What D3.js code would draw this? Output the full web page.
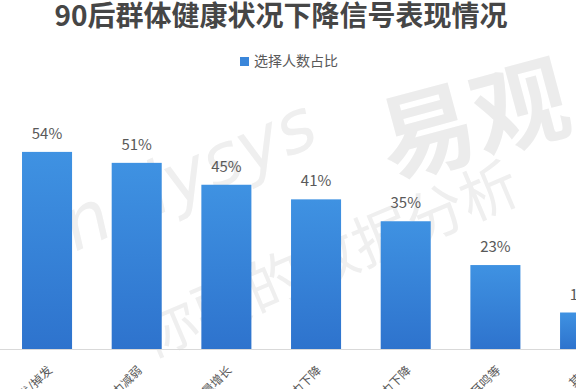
<!DOCTYPE html>
<html><head><meta charset="utf-8">
<script src="https://cdn.jsdelivr.net/npm/d3@7"></script>
<style>html,body{margin:0;padding:0;background:#fff;overflow:hidden}svg{display:block}</style>
</head><body>
<svg id="c" width="576" height="389"></svg>
<script>
const categories = ["脱发/掉发","记忆力减弱","体重量增长","视力下降","免疫力下降","听力减退、耳鸣等","其他"];
const values = [54,51,45,41,35,23,10];
const seriesName = "选择人数占比";
const title = "90后群体健康状况下降信号表现情况";

const W=576,H=389;
const svg=d3.select("#c");
const font="'Noto Sans CJK SC','Microsoft YaHei',sans-serif";
const defs=svg.append("defs");
const g=defs.append("linearGradient").attr("id","bg").attr("x1",0).attr("y1",0).attr("x2",0).attr("y2",1);
g.append("stop").attr("offset","0%").attr("stop-color","#3f92e2");
g.append("stop").attr("offset","100%").attr("stop-color","#2e73cd");

// watermark
const wm=svg.append("g").attr("fill","#ececec").attr("font-family",font);
wm.append("text").attr("transform","translate(390,178) rotate(-15)").attr("font-size",96).attr("font-weight",700).text("易观");
wm.append("text").attr("transform","translate(30,272) rotate(-24)").attr("font-size",72).attr("font-style","italic").attr("fill","#efefef").attr("font-family","'DejaVu Sans',sans-serif").text("Analysys");
wm.append("text").attr("transform","translate(150,358) rotate(-23)").attr("font-size",58).attr("fill","#efefef").text("你要的数据分析");

const baseY=349;
const x=d3.scaleBand().domain(categories).range([2.2,629.9]).paddingInner(0.442).paddingOuter(0.221);
const y=d3.scaleLinear().domain([0,60]).range([baseY,baseY-3.65*60]);

svg.append("line").attr("x1",0).attr("x2",W).attr("y1",baseY+0.5).attr("y2",baseY+0.5).attr("stroke","#d9d9d9").attr("stroke-width",1);

svg.append("g").selectAll("rect").data(values).join("rect")
  .attr("x",(d,i)=>x(categories[i])).attr("width",x.bandwidth())
  .attr("y",d=>y(d)).attr("height",d=>baseY-y(d)).attr("fill","url(#bg)");

svg.append("g").selectAll("text").data(values).join("text")
  .attr("x",(d,i)=>x(categories[i])+x.bandwidth()/2).attr("y",d=>y(d)-13)
  .attr("text-anchor","middle").attr("font-family",font).attr("font-size",15).attr("fill","#595959")
  .text(d=>d+"%");

// category labels rotated
const xa=svg.append("g").attr("transform",`translate(0,${baseY})`).call(d3.axisBottom(x).tickSize(0).tickPadding(0));
xa.select(".domain").remove();
xa.selectAll("text").attr("font-family",font).attr("font-size",12).attr("fill","#595959")
  .attr("text-anchor","end").attr("dy",null).attr("transform","translate(6,22) rotate(-45)");

// title
svg.append("text").attr("x",281).attr("y",26).attr("text-anchor","middle").attr("font-family",font)
  .attr("font-size",28).attr("font-weight",700).attr("fill","#464646").text(title);

// legend
svg.append("rect").attr("x",240).attr("y",57).attr("width",9).attr("height",9).attr("fill","#3a86da");
svg.append("text").attr("x",254).attr("y",66).attr("font-family",font).attr("font-size",14).attr("fill","#595959").text(seriesName);
</script>
</body></html>
